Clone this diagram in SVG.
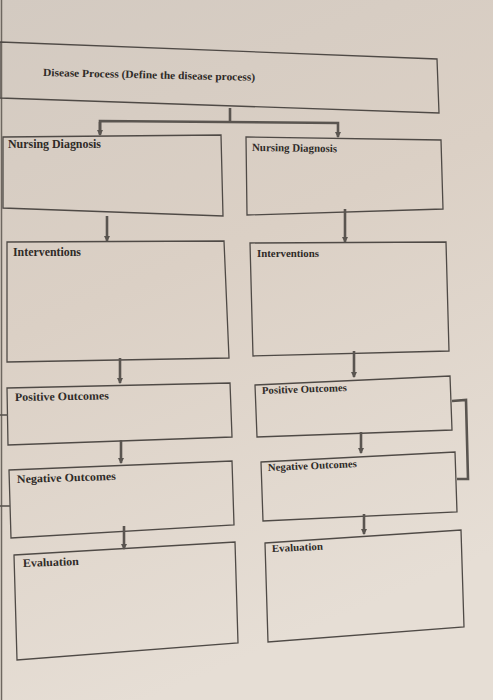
<svg xmlns="http://www.w3.org/2000/svg" width="493" height="700" viewBox="0 0 493 700">
<defs>
<linearGradient id="paper" x1="0" y1="0" x2="0.3" y2="1">
<stop offset="0" stop-color="#d3cac1"/>
<stop offset="0.45" stop-color="#dbd0c5"/>
<stop offset="1" stop-color="#e6ded5"/>
</linearGradient>
<marker id="ah" viewBox="0 0 6 6" refX="5" refY="3" markerWidth="2.4" markerHeight="2.4" orient="auto">
<path d="M0,0 L6,3 L0,6 z" fill="#5a5550"/>
</marker>
<style>
.box{fill:none;stroke:#4f4a46;stroke-width:1.3;}
.lbl{font-family:"Liberation Serif","Times New Roman",serif;font-weight:bold;fill:#2f2b28;}
.con{fill:none;stroke:#5a5550;stroke-width:2.6;stroke-linejoin:miter;}
.thin{fill:none;stroke:#5a5550;stroke-width:1.6;}
</style>
</defs>
<rect width="493" height="700" fill="url(#paper)"/>
<line x1="1.5" y1="0" x2="1.5" y2="700" stroke="#6e6760" stroke-width="1.5"/>

<g id="disease">
<polygon class="box" points="0,42 437,59 439,113 0,98"/>
<text class="lbl" x="43" y="76" font-size="11" textLength="212" lengthAdjust="spacingAndGlyphs" transform="rotate(1.3 43 76)">Disease Process (Define the disease process)</text>
</g>

<g id="nd-left">
<polygon class="box" points="3,137 221,135 223,216 3,208"/>
<text class="lbl" x="8" y="148" font-size="12" textLength="93" lengthAdjust="spacingAndGlyphs">Nursing Diagnosis</text>
</g>
<g id="nd-right">
<polygon class="box" points="246,137 441,140 443,209 247,215"/>
<text class="lbl" x="252" y="151" font-size="11" textLength="85" lengthAdjust="spacingAndGlyphs" transform="rotate(0.8 252 151)">Nursing Diagnosis</text>
</g>

<g id="int-left">
<polygon class="box" points="7,242 224,241 229,358 7,362"/>
<text class="lbl" x="13" y="256" font-size="11.5" textLength="68" lengthAdjust="spacingAndGlyphs">Interventions</text>
</g>
<g id="int-right">
<polygon class="box" points="250,243 446,242 449,351 253,356"/>
<text class="lbl" x="257" y="257" font-size="10.5" textLength="62" lengthAdjust="spacingAndGlyphs">Interventions</text>
</g>

<g id="po-left">
<polygon class="box" points="7,388 230,383 232,437 8,445"/>
<text class="lbl" x="15" y="401" font-size="11.5" textLength="94" lengthAdjust="spacingAndGlyphs" transform="rotate(-1 15 401)">Positive Outcomes</text>
</g>
<g id="po-right">
<polygon class="box" points="255,385 450,376 452,430 257,437"/>
<text class="lbl" x="262" y="394" font-size="10.5" textLength="85" lengthAdjust="spacingAndGlyphs" transform="rotate(-2 262 394)">Positive Outcomes</text>
</g>

<g id="no-left">
<polygon class="box" points="9,470 232,461 234,525 11,538"/>
<text class="lbl" x="17" y="483" font-size="11.5" textLength="99" lengthAdjust="spacingAndGlyphs" transform="rotate(-1.8 17 483)">Negative Outcomes</text>
</g>
<g id="no-right">
<polygon class="box" points="261,462 455,452 457,512 263,521"/>
<text class="lbl" x="268" y="471" font-size="10.5" textLength="89" lengthAdjust="spacingAndGlyphs" transform="rotate(-2.5 268 471)">Negative Outcomes</text>
</g>

<g id="eval-left">
<polygon class="box" points="14,555 235,542 238,643 17,660"/>
<text class="lbl" x="23" y="567" font-size="11.5" textLength="56" lengthAdjust="spacingAndGlyphs" transform="rotate(-2 23 567)">Evaluation</text>
</g>
<g id="eval-right">
<polygon class="box" points="265,543 461,530 464,627 268,642"/>
<text class="lbl" x="272" y="552" font-size="10.5" textLength="51" lengthAdjust="spacingAndGlyphs" transform="rotate(-2.5 272 552)">Evaluation</text>
</g>

<g id="connectors">
<path class="con" d="M230,108 L230,122"/>
<path class="con" d="M100,134 L100,121 L338,123 L338,137" marker-end="url(#ah)"/>
<path class="con" d="M100,122 L100,135" marker-end="url(#ah)"/>
<path class="con" d="M107,216 L107,241" marker-end="url(#ah)"/>
<path class="con" d="M345,209 L345,242" marker-end="url(#ah)"/>
<path class="con" d="M120,358 L120,383" marker-end="url(#ah)"/>
<path class="con" d="M354,351 L354,377" marker-end="url(#ah)"/>
<path class="con" d="M121,440 L121,463" marker-end="url(#ah)"/>
<path class="con" d="M361,432 L361,453" marker-end="url(#ah)"/>
<path class="con" d="M124,526 L124,549" marker-end="url(#ah)"/>
<path class="con" d="M364,514 L364,534" marker-end="url(#ah)"/>
<path class="con" d="M452,401 L466,400 L468,479 L457,479"/>
<path class="thin" d="M0,415 L8,415"/>
<path class="thin" d="M0,506 L10,506"/>
</g>
</svg>
